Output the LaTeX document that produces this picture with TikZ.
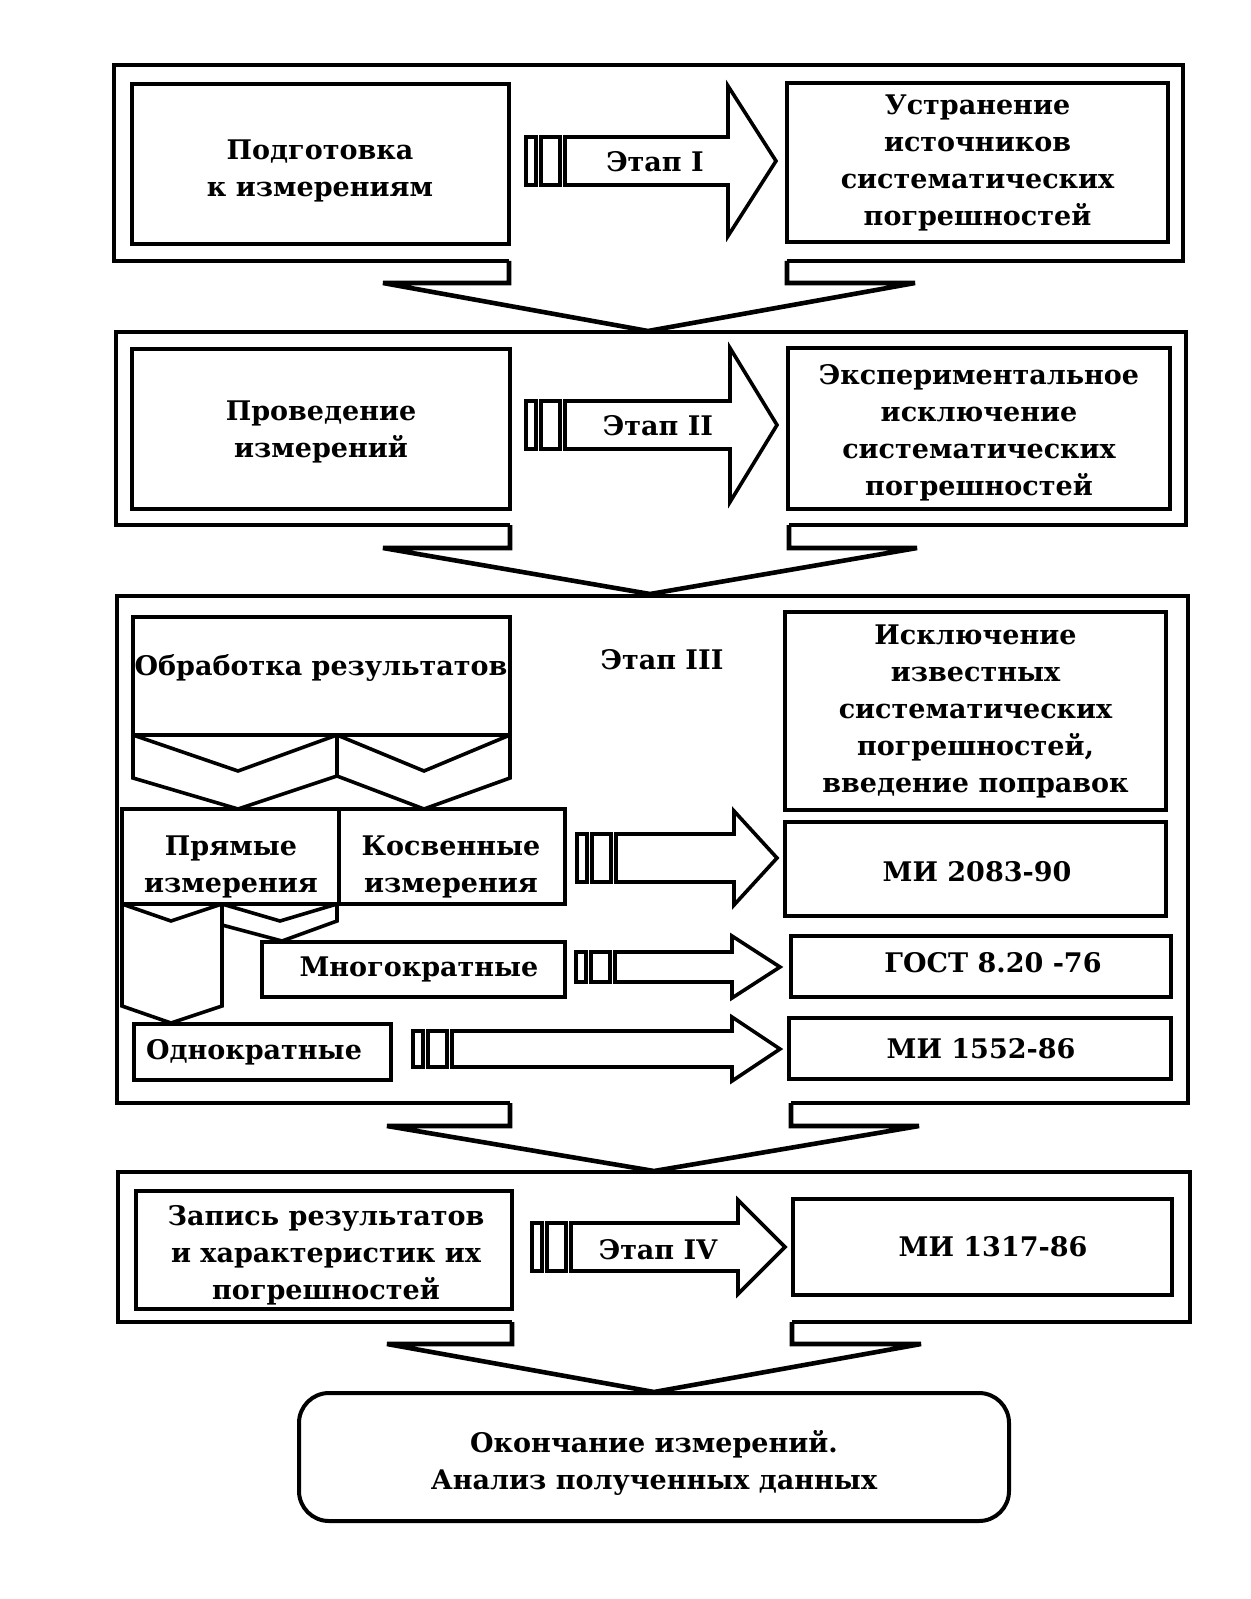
\documentclass[tikz,border=0pt]{standalone}
\usepackage{fontspec}
\setmainfont{DejaVu Serif}
\usetikzlibrary{fit}
\newcommand\dgfont{\fontsize{13.5}{18.5}\selectfont\bfseries}
\newcommand\blockarr[6]{% #1 bar start x, #2 head base x, #3 tip x, #4 centre y, #5 half shaft, #6 half head
  \draw[arr] (#1,#4-#5) rectangle (#1+10,#4+#5);
  \draw[arr] (#1+15,#4-#5) rectangle (#1+34,#4+#5);
  \draw[arr] (#1+39,#4-#5) -- (#2,#4-#5) -- (#2,#4-#6) -- (#3,#4) -- (#2,#4+#6) -- (#2,#4+#5) -- (#1+39,#4+#5) -- cycle;
}
\begin{document}
\begin{tikzpicture}[x=0.5pt,y=-0.5pt,
  box/.style={draw, line width=2pt, inner sep=0pt},
  lbl/.style={inner sep=0pt, align=center, font=\dgfont},
  panel/.style={draw, line width=2.3pt, line join=miter},
  arr/.style={draw, line width=1.8pt, line join=miter, fill=white},
  chev/.style={draw, line width=1.8pt, line join=miter}]
\fill[white] (0,0) rectangle (1250,1599);
\useasboundingbox (0,0) rectangle (1250,1599);

% ---------- panels with down arrows ----------
\draw[panel] (509,261) -- (114,261) -- (114,65) -- (1183,65) -- (1183,261) -- (787,261);
\draw[panel] (509,261) -- (509,283) -- (383,283) -- (648,331) -- (915,283) -- (787,283) -- (787,261);

\draw[panel] (510,525) -- (116,525) -- (116,332) -- (1186,332) -- (1186,525) -- (789,525);
\draw[panel] (510,525) -- (510,548) -- (383,548) -- (650,594) -- (917,548) -- (789,548) -- (789,525);

\draw[panel] (510,1103) -- (117,1103) -- (117,596) -- (1188,596) -- (1188,1103) -- (791,1103);
\draw[panel] (510,1103) -- (510,1126) -- (387,1126) -- (654,1171) -- (919,1126) -- (791,1126) -- (791,1103);

\draw[panel] (512,1322) -- (118,1322) -- (118,1172) -- (1190,1172) -- (1190,1322) -- (792,1322);
\draw[panel] (512,1322) -- (512,1344) -- (387,1344) -- (654,1392) -- (921,1344) -- (792,1344) -- (792,1322);

% ---------- stage I ----------
\node[box, fit={(132,84) (509,244)}] (prep) {};
\node[box, fit={(787,83) (1168,242)}] (elim) {};
\blockarr{526}{728}{776}{161}{24}{75}
\node[lbl] (prept) at (320,171) {Подготовка\\к измерениям};
\node[lbl] (elimt) at (elim) {Устранение\\источников\\систематических\\погрешностей};
\node[lbl] (st1) at (655,162) {Этап I};

% ---------- stage II ----------
\node[box, fit={(132,349) (510,509)}] (cond) {};
\node[box, fit={(788,348) (1170,509)}] (expt) {};
\blockarr{526}{730}{777}{425}{24}{77}
\node[lbl] (condt) at (321,432) {Проведение\\измерений};
\node[lbl] (exptt) at (979,433) {Экспериментальное\\исключение\\систематических\\погрешностей};
\node[lbl] (st2) at (658,426) {Этап II};

% ---------- stage III ----------
\node[box, fit={(133,617) (510,735)}] (proc) {};
\node[lbl] (proct) at (321,668) {Обработка результатов};
\node[lbl] (st3) at (662,660) {Этап III};
\node[box, fit={(785,612) (1166,810)}] (known) {};
\node[lbl] (knownt) at (known) {Исключение\\известных\\систематических\\погрешностей,\\введение поправок};

\draw[chev] (133,735) -- (133,778) -- (238,809) -- (337,776) -- (424,809) -- (510,778) -- (510,735);
\draw[chev] (133,735) -- (238,771) -- (337,735) -- (424,771) -- (510,735);
\draw[chev] (337,736) -- (337,776);

\node[box, fit={(122,809) (339,904)}] (direct) {};
\node[box, fit={(339,809) (565,904)}] (indirect) {};
\node[lbl] (directt) at (231,867) {Прямые\\измерения};
\node[lbl] (indirectt) at (451,867) {Косвенные\\измерения};

\draw[chev] (122,904) -- (171,921) -- (222,904) -- (280,921) -- (337,904);
\draw[chev] (122,904) -- (122,1006) -- (171,1023) -- (222,1006) -- (222,904);
\draw[chev] (337,904) -- (337,921) -- (282,941) -- (222,925);

\node[box, fit={(262,942) (565,997)}] (multi) {};
\node[lbl] (multit) at (419,969) {Многократные};
\node[box, fit={(134,1024) (391,1080)}] (single) {};
\node[lbl] (singlet) at (254,1052) {Однократные};

\node[box, fit={(785,822) (1166,916)}] (mia) {};
\node[box, fit={(791,936) (1171,997)}] (gost) {};
\node[box, fit={(789,1018) (1171,1079)}] (mib) {};
\node[lbl] (miat) at (977,872) {МИ 2083-90};
\node[lbl] (gostt) at (993,963) {ГОСТ 8.20 -76};
\node[lbl] (mibt) at (981,1049) {МИ 1552-86};

\blockarr{577}{734}{777}{858}{24}{47}
\blockarr{576}{732}{780}{967}{15}{31}
\blockarr{413}{732}{780}{1049}{18}{32}

% ---------- stage IV ----------
\node[box, fit={(136,1191) (512,1309)}] (record) {};
\node[box, fit={(793,1199) (1172,1295)}] (mic) {};
\node[lbl] (recordt) at (326,1255) {Запись результатов\\и характеристик их\\погрешностей};
\node[lbl] (mict) at (993,1247) {МИ 1317-86};
\blockarr{532}{738}{785}{1247}{24}{47}
\node[lbl] (st4) at (658,1250) {Этап IV};

% ---------- end ----------
\node[box, rounded corners=15pt, fit={(299,1393) (1009,1521)}] (final) {};
\node[lbl] (finalt) at (654,1463) {Окончание измерений.\\Анализ полученных данных};
\end{tikzpicture}
\end{document}
